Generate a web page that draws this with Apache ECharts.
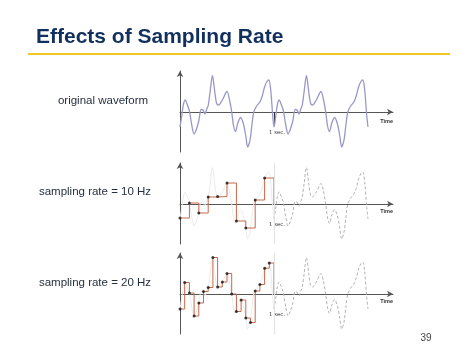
<!DOCTYPE html>
<html>
<head>
<meta charset="utf-8">
<script src="https://cdn.jsdelivr.net/npm/echarts@6/dist/echarts.min.js"></script>
<style>
  html, body { margin: 0; padding: 0; background: #fff; }
  #main { width: 474px; height: 355px; }
</style>
</head>
<body>
<div id="main"></div>
<script>
// one period of the waveform (seconds, amplitude)
var waveT = [0, 0.02, 0.035, 0.055, 0.075, 0.1, 0.125, 0.15, 0.175, 0.2,
  0.225, 0.245, 0.265, 0.285, 0.3, 0.32, 0.345, 0.37, 0.39, 0.41,
  0.45, 0.5, 0.525, 0.55, 0.57, 0.59, 0.615, 0.645, 0.675, 0.7,
  0.72, 0.745, 0.765, 0.785, 0.815, 0.85, 0.875, 0.9, 0.925, 0.945,
  0.965, 0.985, 1.0];
var waveV = [-15, -3, 7, 12, 8, 1, -13, -22, -17, -9,
  2.5, 2, -2, 3, 6.5, 20, 36.5, 20, 8.5, 7,
  12, 20.5, 13, 0, -14, -19.5, -11, -5.5, -12, -24,
  -35, -28, -13, 0, 6, 10, 16, 25, 30.5, 32,
  22, -2, -15];

// samples, 10 Hz and 20 Hz
var rate10T = [0, 0.1, 0.2, 0.3, 0.4, 0.5, 0.6, 0.7, 0.8, 0.9];
var rate10V = [-14, 1, -9, 7, 7.5, 21, -17, -24, 4, 26];
var rate20T = [0, 0.05, 0.1, 0.15, 0.2, 0.25, 0.3, 0.35, 0.4, 0.45,
  0.5, 0.55, 0.6, 0.65, 0.7, 0.75, 0.8, 0.85, 0.9, 0.95];
var rate20V = [-15, 11.5, 1, -22, -9, 2.5, 6.5, 36.5, 7, 12,
  20.5, 0, -17.5, -6, -24, -28.5, 3, 9.5, 25.8, 31];

var labels = ['original waveform', 'sampling rate = 10 Hz', 'sampling rate = 20 Hz'];

var myChart = echarts.init(document.getElementById('main'));

// the wave repeats every second: two periods are drawn
function period(k) {
  var res = [];
  for (var i = 0; i < waveT.length; i++) res.push([waveT[i] + k, waveV[i]]);
  return res;
}
var firstPeriod = period(0);
var secondPeriod = period(1);
var fullWave = firstPeriod.concat(secondPeriod.slice(1));

function held(ts, vs) {
  var res = [];
  for (var i = 0; i < ts.length; i++) res.push([ts[i], vs[i]]);
  res.push({ value: [1, vs[vs.length - 1]], symbol: 'none' });
  res.push({ value: [1, 0], symbol: 'none' });
  return res;
}
function dots(ts, vs) {
  return ts.map(function (t, i) { return [t, vs[i]]; });
}

var tops = [71, 163, 253];
var grids = [], xAxes = [], yAxes = [];
tops.forEach(function (top, i) {
  grids.push({ left: 180, top: top, width: 213, height: 81 });
  // x axis lifted 40px from the grid bottom, onto the zero line
  xAxes.push({
    gridIndex: i, type: 'value', min: 0, max: 2.266, offset: -40,
    name: 'Time', nameLocation: 'end', nameGap: 0,
    nameTextStyle: { fontSize: 5.5, fontWeight: 'bold', color: '#333', align: 'right',
      verticalAlign: 'top', padding: [i === 0 ? 6 : 4, 0, 0, 0], fontFamily: 'Liberation Sans' },
    axisLine: { onZero: false, symbol: ['none', 'arrow'], symbolSize: [5, 6],
      lineStyle: { color: '#555', width: 1 } },
    axisTick: { show: true, customValues: [1], length: 14, lineStyle: { color: '#333', width: 1 } },
    axisLabel: { customValues: [1], formatter: function () { return '1 sec.'; },
      fontSize: 5.5, color: '#333', margin: 18, padding: [0, 0, 0, 6], fontFamily: 'DejaVu Serif' },
    splitLine: { show: false }
  });
  yAxes.push({
    gridIndex: i, type: 'value', min: -40, max: 41,
    axisLine: { show: true, onZero: false, symbol: ['none', 'arrow'], symbolSize: [5, 6],
      lineStyle: { color: '#555', width: 1 } },
    axisTick: { show: false }, axisLabel: { show: false }, splitLine: { show: false }
  });
});

var series = [{
  type: 'line', xAxisIndex: 0, yAxisIndex: 0, data: fullWave,
  smooth: 0.3, showSymbol: false, lineStyle: { color: '#9898c8', width: 1.3 }
}];
[[rate10T, rate10V], [rate20T, rate20V]].forEach(function (s, k) {
  var g = k + 1;
  series.push({
    type: 'line', xAxisIndex: g, yAxisIndex: g, data: firstPeriod,
    smooth: 0.3, showSymbol: false, lineStyle: { color: '#ececec', width: 1 }, z: 1
  });
  series.push({
    type: 'line', xAxisIndex: g, yAxisIndex: g, data: secondPeriod,
    smooth: 0.3, showSymbol: false, lineStyle: { color: '#b4b4b4', width: 1, type: [3, 2] }, z: 1,
    markLine: { silent: true, symbol: 'none', label: { show: false },
      lineStyle: { color: '#e2e2e2', width: 1, type: 'solid' }, data: [{ xAxis: 1 }] }
  });
  series.push({
    type: 'line', xAxisIndex: g, yAxisIndex: g, data: held(s[0], s[1]), step: 'end',
    showSymbol: false, lineStyle: { color: '#c8684a', width: 1 }, z: 3
  });
  series.push({
    type: 'scatter', xAxisIndex: g, yAxisIndex: g, data: dots(s[0], s[1]),
    symbolSize: 3, itemStyle: { color: '#111' }, z: 4
  });
});

var graphic = [
  { type: 'text', left: 36, top: 27, style: { text: 'Effects of Sampling Rate',
    font: 'bold 21px "Liberation Sans"', fill: '#12305e' } },
  { type: 'line', shape: { x1: 28, y1: 54, x2: 450, y2: 54 },
    style: { stroke: '#f3c623', lineWidth: 2 } },
  { type: 'text', x: 426, y: 338, style: { text: '39', font: '10px "Liberation Sans"',
    fill: '#444', textAlign: 'center', textVerticalAlign: 'middle' } }
];
var labelPos = [[103, 101], [95, 192], [95, 283]];
labels.forEach(function (t, i) {
  graphic.push({ type: 'text', x: labelPos[i][0], y: labelPos[i][1],
    style: { text: t, font: '11.5px "Liberation Sans"', fill: '#26313f',
      textAlign: 'center', textVerticalAlign: 'middle' } });
});

var option = {
  animation: false,
  backgroundColor: '#fff',
  grid: grids, xAxis: xAxes, yAxis: yAxes,
  series: series,
  graphic: graphic
};
myChart.setOption(option);
</script>
</body>
</html>
